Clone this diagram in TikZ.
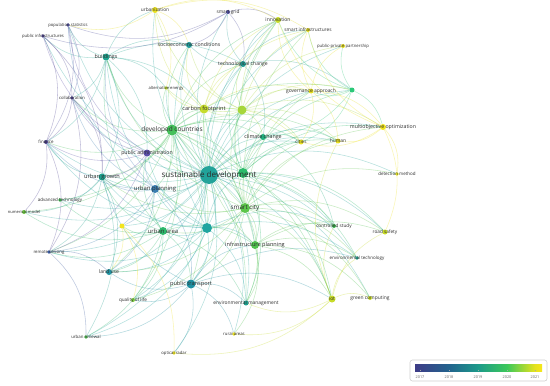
\documentclass[tikz,border=0pt]{standalone}
\usepackage{fontspec}
\setmainfont{Open Sans}
\usetikzlibrary{backgrounds}
\pgfdeclarelayer{testi}
\pgfsetlayers{background,main,testi}
% --- colori dei termini (anno medio) ---------------------------------
\definecolor{c-sd}{HTML}{22A39A}
\definecolor{c-verde}{HTML}{2DBB6B}
\definecolor{c-lime}{HTML}{A6D63A}
\definecolor{c-turchese}{HTML}{1FA5A0}
\definecolor{c-giallo}{HTML}{F2E41E}
\definecolor{c-smeraldo}{HTML}{2BC878}
\definecolor{c-dc}{HTML}{45C05A}
\definecolor{c-cf}{HTML}{C6DC2C}
\definecolor{c-cc}{HTML}{22B07E}
\definecolor{c-pa}{HTML}{5B4FA8}
\definecolor{c-ug}{HTML}{1FA08E}
\definecolor{c-up}{HTML}{3A7DB0}
\definecolor{c-sc}{HTML}{5DC64B}
\definecolor{c-ua}{HTML}{2DB86B}
\definecolor{c-ip}{HTML}{50C24E}
\definecolor{c-pt}{HTML}{1F90A2}
\definecolor{c-lu}{HTML}{2293A2}
\definecolor{c-ql}{HTML}{7DCE40}
\definecolor{c-em}{HTML}{1FA08E}
\definecolor{c-ur}{HTML}{4DC050}
\definecolor{c-ra}{HTML}{E8E020}
\definecolor{c-orad}{HTML}{E8E020}
\definecolor{c-rs}{HTML}{3A5AA0}
\definecolor{c-nm}{HTML}{6CC840}
\definecolor{c-at}{HTML}{3DBB50}
\definecolor{c-fin}{HTML}{4A3F90}
\definecolor{c-col}{HTML}{4A3F90}
\definecolor{c-ae}{HTML}{B8D830}
\definecolor{c-bu}{HTML}{1FA590}
\definecolor{c-ps}{HTML}{4A4A9A}
\definecolor{c-pi}{HTML}{4A3F90}
\definecolor{c-uz}{HTML}{E8E020}
\definecolor{c-sg}{HTML}{4A4A9A}
\definecolor{c-inn}{HTML}{C8DC28}
\definecolor{c-si}{HTML}{E8E020}
\definecolor{c-ppp}{HTML}{E8E020}
\definecolor{c-se}{HTML}{1F9A98}
\definecolor{c-tc}{HTML}{1F9A90}
\definecolor{c-ga}{HTML}{E8E020}
\definecolor{c-mo}{HTML}{F0E41E}
\definecolor{c-ci}{HTML}{E8E020}
\definecolor{c-hu}{HTML}{E8E020}
\definecolor{c-dm}{HTML}{E0E020}
\definecolor{c-cs}{HTML}{3DBB50}
\definecolor{c-rsf}{HTML}{C8DC28}
\definecolor{c-et}{HTML}{1FA08A}
\definecolor{c-iot}{HTML}{C8DC28}
\definecolor{c-gc}{HTML}{C8DC28}
% --- scala della legenda ----------------------------------------------
\definecolor{anno0}{HTML}{3E3C87}
\definecolor{anno1}{HTML}{22638D}
\definecolor{anno2}{HTML}{1C9A8A}
\definecolor{anno3}{HTML}{3CC85A}
\definecolor{anno4}{HTML}{E6E31E}
\definecolor{anno5}{HTML}{F5E61A}
\tikzset{
  punto/.style={circle, inner sep=0pt, draw=none},
  etichetta/.style={inner sep=0pt, text=black!82},
  arco/.style={line width=0.28mm, opacity=0.33},
}

\begin{document}
\begin{tikzpicture}[x=0.5mm, y=-0.5mm]
        % --- macro riutilizzabili -----------------------------------------
        \def\termine#1#2#3#4#5{%
          \node[punto, minimum size=#3mm, fill=c-#1] (#1) at (#2) {};
          \begin{pgfonlayer}{testi}
            \node[etichetta, font=\fontsize{#4}{#4}\selectfont] (#1-t) at (#1) {#5};
          \end{pgfonlayer}}
        \useasboundingbox (0,0) rectangle (550,386);
        % --- termini ------------------------------------------------------
        \termine{sd}{209,175}{9}{11.5}{sustainable development}
        \termine{verde}{243,173}{5}{8}{}
        \termine{lime}{242,110}{4.5}{8}{}
        \termine{turchese}{207,228}{5}{8}{}
        \termine{giallo}{122,226}{2.5}{8}{}
        \termine{smeraldo}{352,90}{2.5}{8}{}
        \termine{dc}{172,130}{5.5}{9.2}{developed countries}
        \termine{cf}{204,109}{4.5}{8}{carbon footprint}
        \termine{cc}{263,137}{3}{7.6}{climate change}
        \termine{pa}{147,153}{3.5}{7.4}{public administration}
        \termine{ug}{102,177}{3.5}{8}{urban growth}
        \termine{up}{155,189}{4}{8.4}{urban planning}
        \termine{sc}{245,208}{5}{8.9}{smart city}
        \termine{ua}{163,231}{4}{8.4}{urban area}
        \termine{ip}{255,245}{4}{7.9}{infrastructure planning}
        \termine{pt}{191,284}{4.5}{8}{public transport}
        \termine{lu}{109,272}{3}{7.2}{land use}
        \termine{ql}{133,300}{2}{6.6}{quality of life}
        \termine{em}{246,303}{2.5}{7}{environmental management}
        \termine{ur}{86,337}{1.8}{6.2}{urban renewal}
        \termine{ra}{234,334}{1.8}{6.1}{rural areas}
        \termine{orad}{174,353}{1.8}{6.1}{optical radar}
        \termine{rs}{49,252}{1.8}{6.1}{remote sensing}
        \termine{nm}{24,212}{2}{5.8}{numerical model}
        \termine{at}{60,200}{1.8}{6.4}{advanced technology}
        \termine{fin}{46,142}{2}{6.3}{finance}
        \termine{col}{72,98}{1.8}{6}{collaboration}
        \termine{ae}{166,88}{1.8}{5.9}{alternative energy}
        \termine{bu}{106,57}{3.5}{7.6}{buildings}
        \termine{ps}{68,25}{1.8}{6}{population statistics}
        \termine{pi}{43,36}{1.8}{6}{public infrastructures}
        \termine{uz}{155,10}{3}{6.8}{urbanization}
        \termine{sg}{228,12}{2}{6.8}{smart grid}
        \termine{inn}{278,20}{3}{7.2}{innovation}
        \termine{si}{308,30}{2}{6.8}{smart infrastructures}
        \termine{ppp}{343,46}{2}{6.1}{public-private partnership}
        \termine{se}{189,45}{3}{7.4}{socioeconomic conditions}
        \termine{tc}{243,64}{3}{7.2}{technological change}
        \termine{ga}{311,91}{2.5}{7}{governance approach}
        \termine{mo}{383,127}{3}{7.4}{multiobjective optimization}
        \termine{ci}{301,142}{2.5}{6.6}{cities}
        \termine{hu}{338,141}{2.5}{7}{human}
        \termine{dm}{397,174}{1.8}{6.4}{detection method}
        \termine{cs}{334,226}{2}{6.7}{controlled study}
        \termine{rsf}{385,232}{2.5}{6.7}{road safety}
        \termine{et}{357,258}{1.8}{6.4}{environmental technology}
        \termine{iot}{332,299}{3.5}{7}{iot}
        \termine{gc}{370,298}{2}{7}{green computing}
        % --- collegamenti -------------------------------------------------
        \begin{scope}[on background layer]
          \fill[white] (0,0) rectangle (550,386);
          \foreach \a/\lista in {
            sd/{dc,cf,cc,pa,ug,up,sc,ua,ip,pt,lu,ql,em,ur,ra,orad,rs,nm,at,fin,col,ae,bu,ps,pi,uz,sg,inn,si,ppp,se,tc,ga,mo,ci,hu,dm,cs,rsf,et,iot,gc,lime,verde,turchese,giallo,smeraldo},
            dc/{cf,cc,pa,ug,up,sc,ua,ip,pt,lu,bu,se,tc,fin,col,ae,lime,verde,turchese,smeraldo,em,ql,iot,ci,hu,inn,rs,at,nm},
            sc/{cf,cc,ua,ip,pt,lu,em,iot,gc,cs,et,rsf,ci,hu,mo,lime,verde,turchese,ga,inn,si,ql,dm,up,ug,bu},
            turchese/{ua,up,pt,lu,ug,bu,em,ip,cs,et,tc,se,verde,lime,rs,ur,ql,pa,fin},
            verde/{cf,cc,lime,tc,ip,cs,et,iot,ci,hu,mo,ga,smeraldo,inn,em,rsf},
            lime/{cf,cc,tc,inn,si,ppp,ga,ci,hu,mo,smeraldo,uz,se,ae},
            ua/{up,ug,pt,lu,ql,ur,bu,rs,giallo,ip,pa,nm,at,em},
            up/{pa,ug,lu,pt,fin,rs,giallo,bu,col,ps},
            pt/{lu,ql,em,ip,ra,orad,iot,ug,ur,et},
            ip/{em,et,cs,iot,rsf,gc,ra,cf},
            bu/{se,ug,pi,ps,col,tc,cf,ae,uz,fin,pa},
            cf/{uz,se,tc,inn,si,ae,ga,ci},
            tc/{sg,se,inn,cc,smeraldo,si},
            smeraldo/{ga,ppp,si,inn,cc,ci,mo},
            ga/{ppp,si,inn,ci,hu,mo},
            mo/{hu,ci,dm,rsf,inn,si},
            iot/{gc,rsf,et,cs,hu,em,ra,orad},
            pa/{fin,ug,col,ps,pi,rs},
            ug/{at,nm,fin,lu,rs,ur},
            sg/{ps,tc,se,inn,pi},
            uz/{ps,inn,se,ae,si},
            cc/{ci,hu,cs},
            giallo/{orad,ql,lu},
            pi/{col,fin,ug},
            ps/{col,fin},
            col/{fin,ug,rs},
            fin/{rs,nm},
            rs/{lu,ur}}
            {\foreach \b in \lista {\draw[arco, draw=c-\a] (\a) to[bend left=24] (\b);}}
        \end{scope}
        % --- legenda ------------------------------------------------------
        \draw[black!18, line width=0.3mm, rounded corners=1.2mm, fill=white] (410,360) rectangle (547,381);
        \foreach \xa/\ca/\xb/\cb in {415/anno0/449/anno1, 449/anno1/478/anno2, 478/anno2/507/anno3, 507/anno3/535/anno4, 535/anno4/542/anno5}
          {\shade[left color=\ca, right color=\cb] (\xa,364) rectangle (\xb,371);}
        \foreach \anno/\x in {2017/420, 2018/449, 2019/478, 2020/507, 2021/535}
          {\draw[black!35, line width=0.2mm] (\x,369.5) -- (\x,371);
           \node[font=\fontsize{5.4}{5.4}\selectfont, text=black!60, inner sep=0pt] (l\anno) at (\x,377) {\anno};}
    \end{tikzpicture}
\end{document}
